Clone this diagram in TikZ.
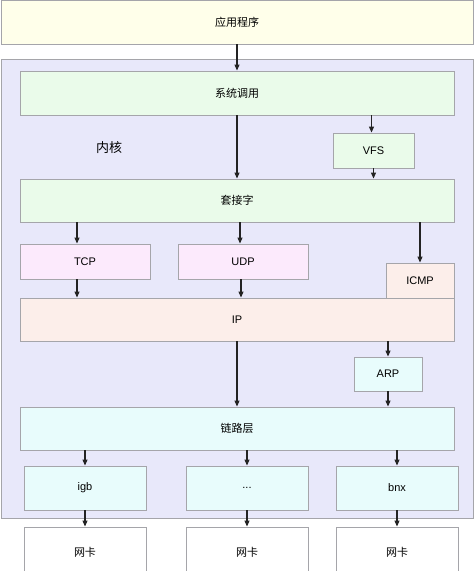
\documentclass[tikz,border=0pt]{standalone}
\usepackage{fontspec}
\setmainfont{Liberation Sans}
\newfontfamily\cjk{Noto Sans CJK SC}
\usetikzlibrary{arrows.meta}
\definecolor{appyellow}{RGB}{255,255,234}
\definecolor{kernelblue}{RGB}{232,232,250}
\definecolor{sysgreen}{RGB}{234,251,234}
\definecolor{tcppink}{RGB}{252,234,252}
\definecolor{ippeach}{RGB}{252,238,234}
\definecolor{linkcyan}{RGB}{232,252,252}
\definecolor{boxgray}{RGB}{165,165,170}
\definecolor{arrowgray}{RGB}{35,35,35}
\newcommand{\nicdots}{...}

\begin{document}
\begin{tikzpicture}[x=1pt,y=-1pt,
    box/.style={draw=boxgray, line width=0.9pt, inner sep=0pt, font=\fontsize{11}{13}\selectfont},
    arr/.style={-{Triangle[length=6pt,width=5pt]}, line width=1.1pt, draw=arrowgray}]
    \useasboundingbox (0,0) rectangle (474,571);

    % Application and kernel frame
    \node[box, fill=appyellow, minimum width=472, minimum height=44] (app) at (237,22) {\cjk 应用程序};
    \node[box, fill=kernelblue, minimum width=472, minimum height=459] (kernel) at (237,288.5) {};
    \node[font=\fontsize{13}{15}\selectfont] (kname) at (109,148) {\cjk 内核};

    % System call layer
    \node[box, fill=sysgreen, minimum width=434, minimum height=44] (sys) at (237,93) {\cjk 系统调用};
    \node[box, fill=sysgreen, minimum width=81, minimum height=35] (vfs) at (373.5,150.5) {VFS};
    \node[box, fill=sysgreen, minimum width=434, minimum height=43] (sock) at (237,200.5) {\cjk 套接字};

    % Transport and network
    \node[box, fill=tcppink, minimum width=130, minimum height=35] (tcp) at (85,261.5) {TCP};
    \node[box, fill=tcppink, minimum width=130, minimum height=35] (udp) at (243,261.5) {UDP};
    \node[box, fill=ippeach, minimum width=68, minimum height=35] (icmp) at (420,280.5) {ICMP};
    \node[box, fill=ippeach, minimum width=434, minimum height=43] (ip) at (237,319.5) {IP};
    \node[box, fill=linkcyan, minimum width=68, minimum height=34] (arp) at (388,374) {ARP};

    % Link layer, drivers and cards
    \node[box, fill=linkcyan, minimum width=434, minimum height=43] (link) at (237,428.5) {\cjk 链路层};
    \foreach \n/\t/\x in {igb/igb/85, dots/\nicdots/247, bnx/bnx/397} {
        \node[box, fill=linkcyan, minimum width=122, minimum height=44] (\n) at (\x,488) {\t};
        \node[box, fill=white, minimum width=122, minimum height=50] (card\n) at (\x,552) {\cjk 网卡};
    }

    % Arrows
    \draw[arr] (app.south) -- (sys.north);
    \draw[arr] (sys.south) -- (sock.north);
    \draw[arr] ([xshift=-2pt]sys.south -| vfs.north) -- ([xshift=-2pt]vfs.north);
    \draw[arr] (vfs.south) -- (vfs.south |- sock.north);
    \draw[arr] ([xshift=-8pt]sock.south -| tcp.north) -- ([xshift=-8pt]tcp.north);
    \draw[arr] ([xshift=-3pt]sock.south -| udp.north) -- ([xshift=-3pt]udp.north);
    \draw[arr] (sock.south -| icmp.north) -- (icmp.north);
    \draw[arr] ([xshift=-8pt]tcp.south) -- ([xshift=-8pt]tcp.south |- ip.north);
    \draw[arr] ([xshift=-2pt]udp.south) -- ([xshift=-2pt]udp.south |- ip.north);
    \draw[arr] (ip.south -| arp.north) -- (arp.north);
    \draw[arr] (ip.south) -- (link.north);
    \draw[arr] (arp.south) -- (arp.south |- link.north);
    \foreach \n in {igb,dots,bnx} {
        \draw[arr] (link.south -| \n.north) -- (\n.north);
        \draw[arr] (\n.south) -- (card\n.north);
    }
\end{tikzpicture}
\end{document}
